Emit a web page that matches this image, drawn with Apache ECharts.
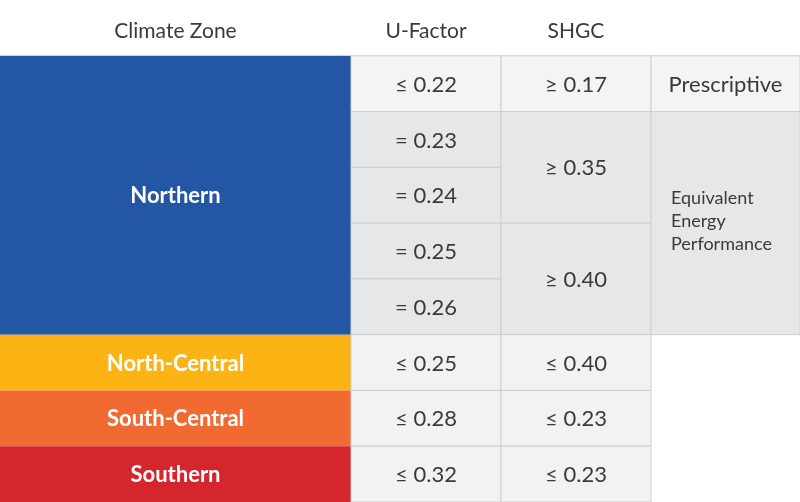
<!DOCTYPE html><html><head><meta charset="utf-8"><script src="https://cdn.jsdelivr.net/npm/echarts@6/dist/echarts.min.js"></script>
<style>html,body{margin:0;padding:0;background:#fff}#c{width:800px;height:502px}</style></head><body><div id="c"></div><script>
const headers=['Climate Zone','U-Factor','SHGC',''];
const colEdges=[0,351,501,651,800];
// cells: [col, rowStart, rowSpan, text, style]
const zoneCells=[[0,1,5,'Northern','#2356a4'],[0,6,1,'North-Central','#fcb415'],[0,7,1,'South-Central','#f06a32'],[0,8,1,'Southern','#d4262d']];
const uCells=[[1,1,1,'≤ 0.22','p'],[1,2,1,'= 0.23','g'],[1,3,1,'= 0.24','g'],[1,4,1,'= 0.25','g'],[1,5,1,'= 0.26','g'],[1,6,1,'≤ 0.25','l'],[1,7,1,'≤ 0.28','l'],[1,8,1,'≤ 0.32','l']];
const shgcCells=[[2,1,1,'≥ 0.17','p'],[2,2,2,'≥ 0.35','g'],[2,4,2,'≥ 0.40','g'],[2,6,1,'≤ 0.40','l'],[2,7,1,'≤ 0.23','l'],[2,8,1,'≤ 0.23','l']];
const pathCells=[[3,1,1,'Prescriptive','p'],[3,2,4,'Equivalent\nEnergy\nPerformance','e']];
const fills={p:'#f4f4f4',g:'#e6e7e9',l:'#f2f2f2',e:'#e6e7e9'};
const data=[...zoneCells,...uCells,...shgcCells,...pathCells];
const headData=headers.map((h,i)=>[i,0,1,h,'h']);
function render(params,api){
  const c=api.value(0),r=api.value(1),s=api.value(2);
  const d=data.concat(headData)[params.dataIndex];
  const p0=api.coord([colEdges[c],r]),p1=api.coord([colEdges[c+1],r+s]);
  const x=p0[0],y=p0[1],w=p1[0]-p0[0],h=p1[1]-p0[1];
  const st=d[4];
  if(st==='h'){
    return {type:'text',style:{x:x+w/2,y:y+h/2+3,text:d[3],align:'center',verticalAlign:'middle',font:'21px Lato',fill:'#3a3a3a'}};
  }
  const isZone=st[0]==='#';
  const fill=isZone?st:fills[st];
  const children=[{type:'rect',shape:{x:x,y:y,width:w,height:h},style:{fill:fill,stroke:isZone?null:'#cfcfcf',lineWidth:1}}];
  if(isZone) children.push({type:'text',style:{x:x+w/2,y:y+h/2+1,text:d[3],align:'center',verticalAlign:'middle',font:'bold 22px Lato',fill:'#fff'}});
  else if(st==='e') children.push({type:'text',style:{x:x+20,y:y+h/2-2,text:d[3],align:'left',verticalAlign:'middle',font:'18px Lato',fill:'#3a3a3a',lineHeight:23}});
  else children.push({type:'text',style:{x:x+w/2,y:y+h/2+1,text:d[3],align:'center',verticalAlign:'middle',font:'22px Lato',fill:'#3a3a3a'}});
  return {type:'group',children:children};
}
const chart=echarts.init(document.getElementById('c'));
chart.setOption({animation:false,
  grid:{left:0,right:0,top:0,bottom:0},
  xAxis:{type:'value',min:0,max:800,show:false},
  yAxis:{type:'value',min:0,max:9,inverse:true,show:false},
  series:[{type:'custom',renderItem:render,data:data.concat(headData).map(d=>[d[0],d[1],d[2]]),clip:false}]
});
</script></body></html>
